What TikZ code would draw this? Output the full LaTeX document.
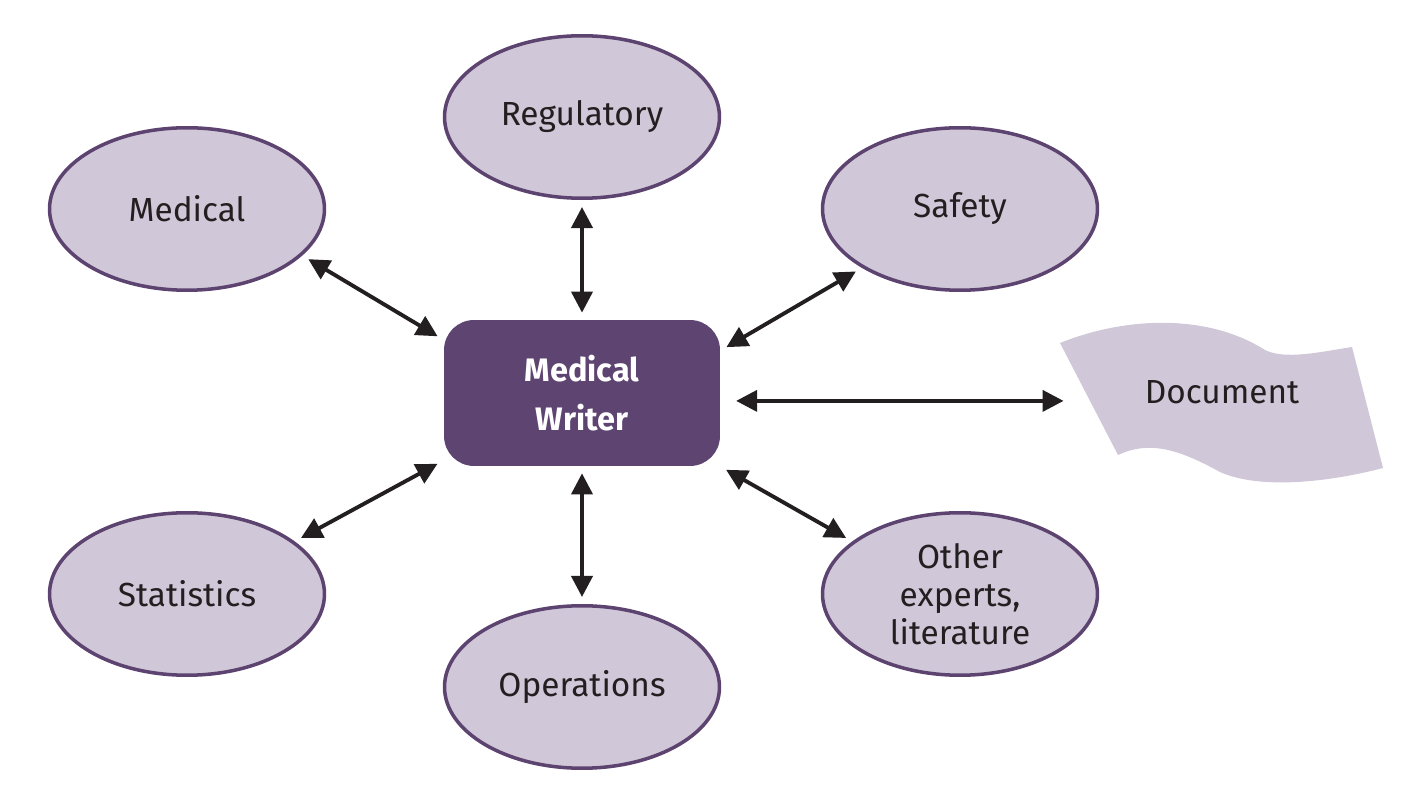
\documentclass[tikz,border=0pt]{standalone}
\usepackage{fontspec}
\setmainfont{Fira Sans}
\usepackage{xcolor}
\usetikzlibrary{shapes,arrows.meta,positioning,calc}
\definecolor{mwfill}{HTML}{D0C8D8}
\definecolor{mwborder}{HTML}{5C4370}
\definecolor{mwbox}{HTML}{5E4470}
\definecolor{mwtext}{HTML}{231F20}

\begin{document}
\begin{tikzpicture}[x=0.02cm, y=-0.02cm, font=\fontsize{19}{21.5}\selectfont,
    area/.style={ellipse, draw=mwborder, line width=2pt, fill=mwfill, text=mwtext,
        minimum width=5.5cm, minimum height=3.25cm, align=center},
    writer/.style={rectangle, rounded corners=0.6cm, fill=mwbox, text=white,
        minimum width=5.52cm, minimum height=2.92cm, align=center, font=\fontsize{18.5}{28}\selectfont\bfseries},
    link/.style={{Triangle[length=12pt,width=12pt]}-{Triangle[length=12pt,width=12pt]},
        line width=2.2pt, draw=mwtext, shorten >=4pt, shorten <=4pt}]
            \useasboundingbox (0,0) rectangle (1401,793);
            \node[writer] (mw) at (582,393) {Medical\\Writer};
            \foreach \x/\y/\name/\txt in {187/209/med/Medical, 582/117/reg/Regulatory,
                    960/209/saf/Safety, 187/594/sta/Statistics, 582/687/ope/Operations,
                    960/594/oth/{Other\\experts,\\literature}}
                \node[area] (\name) at (\x,\y) {\txt};
            % document sheet
            \fill[mwfill] (1060,343) .. controls (1130,315) and (1210,315) .. (1265,350)
                .. controls (1285,360) and (1320,352) .. (1352,347) -- (1383,468)
                .. controls (1330,482) and (1260,490) .. (1220,472)
                .. controls (1180,450) and (1150,440) .. (1118,455) -- cycle;
            \node[text=mwtext] (doc) at (1222,392) {Document};
            \foreach \name/\a/\b in {med/-22/159, reg/-90/90, saf/211/17,
                    sta/26/206, ope/90/-90, oth/154/-28}
                \draw[link] (\name.\a) -- (mw.\b);
            \draw[link, shorten <=9pt, shorten >=0pt] ([yshift=-4.5pt]mw.east)
                -- ([yshift=-4.5pt, xshift=-1.5cm]mw.east -| doc.west);
        \end{tikzpicture}
\end{document}
